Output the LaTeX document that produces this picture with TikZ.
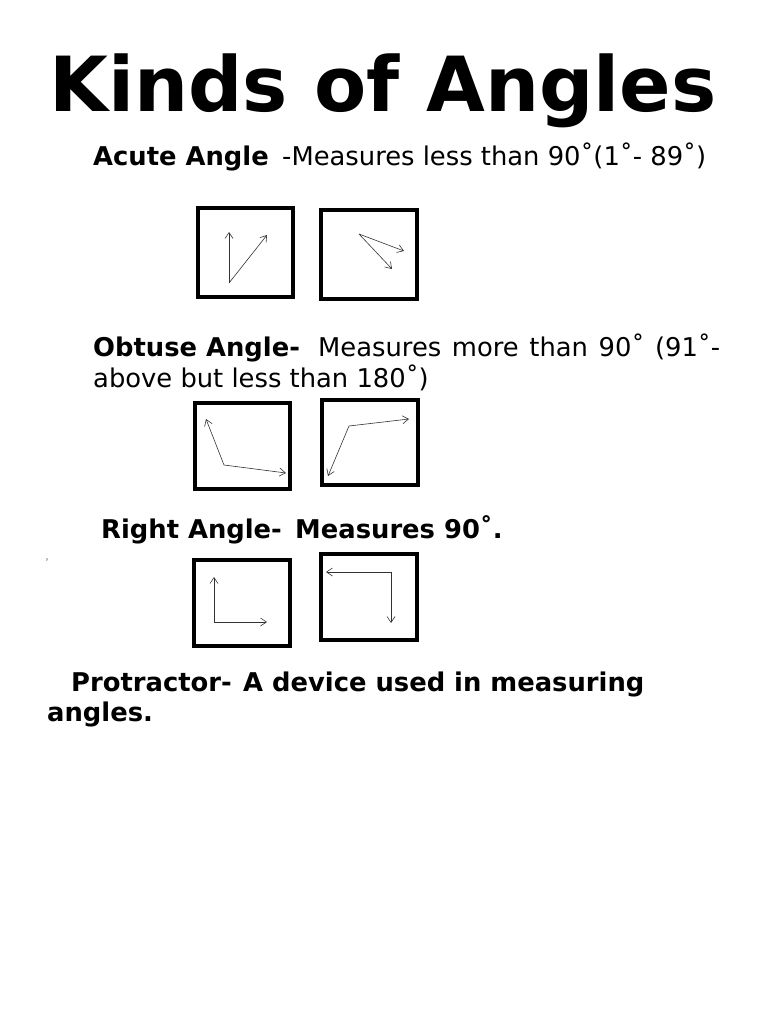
\documentclass[tikz,border=0pt]{standalone}
\usepackage{fontspec}
\setmainfont{DejaVu Sans}
\begin{document}
\begin{tikzpicture}[x=1pt,y=-1pt,
    frame/.style={line width=3.5pt},
    ray/.style={line width=0.6pt, ->, >={Straight Barb[length=6pt,width=8pt]}, gray!40!black},
    txt/.style={anchor=base west, inner sep=0pt, font=\fontsize{25.8}{30}\selectfont},
    btxt/.style={txt, font=\fontsize{25.8}{30}\selectfont\bfseries}]
    \useasboundingbox[fill=white] (0,0) rectangle (768,1024);
    \usetikzlibrary{arrows.meta}
    \node[anchor=base, inner sep=0pt, font=\fontsize{76}{90}\selectfont\bfseries] (title) at (383,112) {Kinds of Angles};
    % acute
    \node[btxt] (acute) at (93,166) {Acute Angle};
    \node[txt] (acutedef) at (282,166) {-Measures less than 90˚(1˚- 89˚)};
    \draw[frame] (198,208) rectangle (293,297);
    \draw[ray] (229,283) -- (229,232);
    \draw[ray] (229,283) -- (267,235);
    \draw[frame] (321,210) rectangle (417,299);
    \draw[ray] (359,234) -- (404,251);
    \draw[ray] (359,234) -- (392,269);
    % obtuse
    \node[btxt] (obtuse) at (93,356) {Obtuse Angle-};
    \node[txt] (obtusedef) at (318,356) {\makebox[402pt][s]{Measures more than 90˚ (91˚-}};
    \node[txt] (obtusedefb) at (93,387) {above but less than 180˚)};
    \draw[frame] (195,403) rectangle (290,489);
    \draw[ray] (224,465) -- (206,419);
    \draw[ray] (224,465) -- (286,473);
    \draw[frame] (322,400) rectangle (418,485);
    \draw[ray] (349,426) -- (409,419);
    \draw[ray] (349,426) -- (328,476);
    % right
    \node[btxt] (right) at (101,538) {Right Angle-};
    \node[btxt] (rightdef) at (295,538) {Measures 90˚.};
    \node[inner sep=0pt, font=\fontsize{5}{6}\selectfont] (mark) at (47,561) {³};
    \draw[frame] (194,560) rectangle (290,646);
    \draw[ray] (214,622) -- (214,577);
    \draw[ray] (214,622) -- (267,622);
    \draw[frame] (321,554) rectangle (417,640);
    \draw[ray] (391,572) -- (326,572);
    \draw[ray] (391,572) -- (391,623);
    % protractor
    \node[btxt] (protractor) at (71,691) {Protractor-};
    \node[btxt] (protractordef) at (243,691) {A device used in measuring};
    \node[btxt] (protractordefb) at (47,721) {angles.};
\end{tikzpicture}
\end{document}
